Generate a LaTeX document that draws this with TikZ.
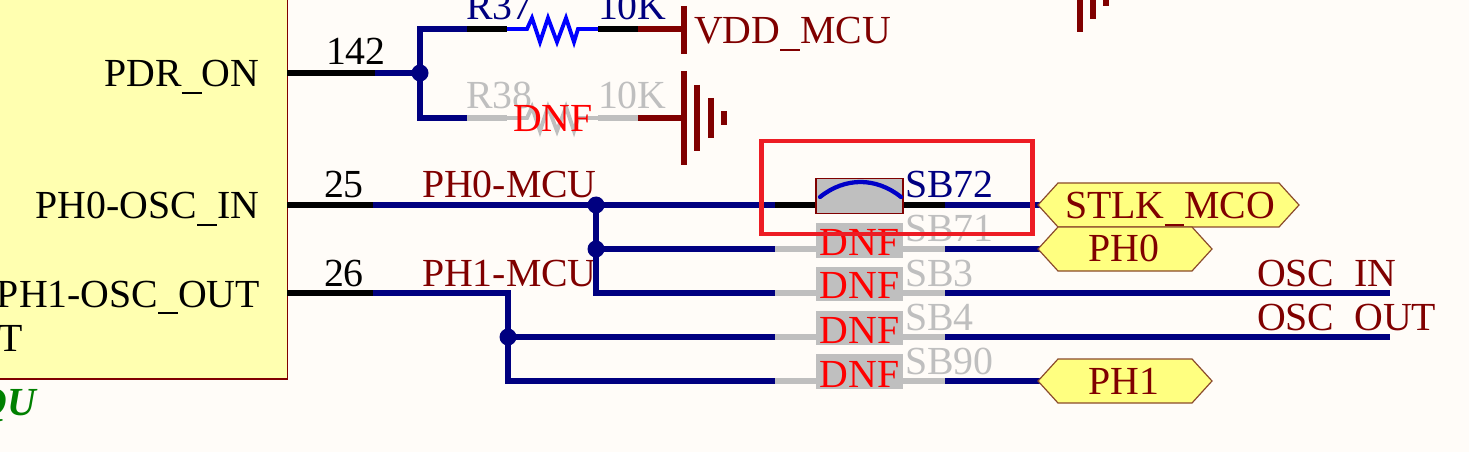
\documentclass[tikz,border=0pt]{standalone}
\usepackage{fontspec}
\setmainfont{Liberation Serif}
\definecolor{bgc}{HTML}{FFFCF8}
\definecolor{compfill}{HTML}{FFFFB0}
\definecolor{portfill}{HTML}{FFFF80}
\definecolor{dred}{HTML}{800000}
\definecolor{nav}{HTML}{000080}
\definecolor{gry}{HTML}{BFBFBF}
\definecolor{portedge}{HTML}{8B4A2B}
\definecolor{redbox}{HTML}{ED1C24}
\definecolor{grn}{HTML}{008000}
\definecolor{arcblue}{HTML}{0000C8}
\newcommand{\us}{\rule[-5.5pt]{14.9pt}{1.5pt}}
\tikzset{
  x=0.75pt,y=-0.75pt,
  lbl/.style={inner sep=0pt,outer sep=0pt,font=\fontsize{29.85}{30}\selectfont,anchor=base west},
  lblr/.style={lbl,anchor=base east},
  wire/.style={draw=nav,line width=3.8pt,line cap=butt,line join=miter},
  pinb/.style={draw=black,line width=3.8pt,line cap=butt},
  ping/.style={draw=gry,line width=3.8pt,line cap=butt},
  pinr/.style={draw=dred,line width=3.8pt,line cap=butt},
  junc/.style={circle,fill=nav,draw=none,minimum size=17*0.75pt,inner sep=0pt},
  sbbox/.style={rectangle,fill=gry,draw=none,minimum width=87*0.75pt,minimum height=34.5*0.75pt,inner sep=0pt},
  dnf/.style={lbl,text=red,anchor=base},
  port/.style={draw=portedge,fill=portfill,line width=0.9pt},
}
\begin{document}
\begin{tikzpicture}
\clip (0,0) rectangle (1469,452);
\fill[bgc] (0,0) rectangle (1469,452);
% component body
\draw[dred,fill=compfill,line width=0.8pt] (-20,-20) rectangle (287.5,379);
\node[lblr] (pdr) at (259,87) {PDR\us ON};
\node[lblr] (ph0in) at (259,219) {PH0-OSC\us IN};
\node[lblr] (ph1out) at (260,307) {PH1-OSC\us OUT};
\node[lblr] (tpart) at (23,351) {T};
\node[lblr,text=grn,font=\fontsize{29.85}{30}\selectfont\bfseries\itshape] (qu) at (36,415) {QU};
% pin numbers and net labels
\node[lbl] (n142) at (326,65) {142};
\node[lbl] (n25) at (324,198) {25};
\node[lbl] (n26) at (324,286) {26};
\node[lbl,text=dred] (ph0mcu) at (422,198) {PH0-MCU};
\node[lbl,text=dred] (ph1mcu) at (422,286) {PH1-MCU};
\node[lbl,text=dred] (oscin) at (1257,286) {OSC\us IN};
\node[lbl,text=dred] (oscout) at (1257,330) {OSC\us OUT};
\node[lbl,text=dred] (vdd) at (694,44) {VDD\us MCU};
\node[lbl,text=nav] (r37) at (466,20) {R37};
\node[lbl,text=nav] (v37) at (598,20) {10K};
\node[lbl,text=gry] (r38) at (466,109) {R38};
\node[lbl,text=gry] (v38) at (598,109) {10K};
\node[lbl,text=nav] (sb72) at (905,198) {SB72};
\node[lbl,text=gry] (sb71) at (905,242) {SB71};
\node[lbl,text=gry] (sb3) at (905,286) {SB3};
\node[lbl,text=gry] (sb4) at (905,330) {SB4};
\node[lbl,text=gry] (sb90) at (905,374) {SB90};
% coordinates
\coordinate (p142) at (287,73);
\coordinate (p25) at (287,205);
\coordinate (p26) at (287,293);
\node[junc] (j1) at (420,73) {};
\node[junc] (j2) at (596,205) {};
\node[junc] (j3) at (596,249) {};
\node[junc] (j4) at (508,337) {};
% top branch: R37 / R38
\draw[pinb] (p142) -- (375,73);
\draw[wire] (375,73) -- (j1.center);
\draw[wire] (467,29) -- (420,29) -- (420,118) -- (467,118);
\draw[pinb] (467,29) -- (507,29);
\draw[draw=blue,line width=2.9pt,line cap=butt,line join=miter]
  (507,29) -- (527,29) -- (532,18) -- (540,42) -- (548,18) -- (557,42) -- (566,18) -- (574,42) -- (578,29) -- (598,29);
\draw[pinb] (598,29) -- (638,29);
\draw[pinr] (638,29) -- (684,29);
\draw[pinr] (684,6) -- (684,54);
\draw[ping] (467,118) -- (507,118);
\draw[draw=gry,line width=2.9pt,line cap=butt,line join=miter]
  (507,118) -- (527,118) -- (532,107) -- (540,131) -- (548,107) -- (557,131) -- (566,107) -- (574,131) -- (578,118) -- (598,118);
\draw[ping] (598,118) -- (638,118);
\draw[pinr] (638,118) -- (684,118);
\draw[pinr] (684,71) -- (684,165);
\draw[pinr] (697,85) -- (697,151);
\draw[pinr] (711,98) -- (711,138);
\draw[pinr] (724,111) -- (724,125);
\node[dnf] (dnfr) at (553,132) {DNF};
% top right fragment
\draw[pinr] (1080,-5) -- (1080,32);
\draw[pinr] (1093,-5) -- (1093,19);
\draw[pinr] (1106,-5) -- (1106,6);
% PH0 / PH1 wires
\draw[pinb] (p25) -- (373,205);
\draw[pinb] (p26) -- (373,293);
\draw[wire] (373,205) -- (775,205);
\draw[wire] (373,293) -- (508,293) -- (508,381) -- (775,381);
\draw[wire] (j4.center) -- (775,337);
\draw[wire] (j2.center) -- (596,293) -- (775,293);
\draw[wire] (j3.center) -- (775,249);
\draw[wire] (945,293) -- (1390,293);
\draw[wire] (945,337) -- (1390,337);
% solder bridges
\draw[pinb] (775,205) -- (818,205);
\draw[pinb] (903,205) -- (945,205);
\foreach \yy in {249,293,337,381}{
  \draw[ping] (775,\yy) -- (818,\yy);
  \draw[ping] (903,\yy) -- (945,\yy);
}
\node[sbbox,draw=dred,line width=0.8pt] (b72) at (859.5,196) {};
\draw[draw=arcblue,line width=3.2pt,line cap=round] (820,197) .. controls (845,177) and (876,177) .. (901,197);
\node[sbbox] (b71) at (859.5,240.5) {};
\node[sbbox] (b3) at (859.5,284) {};
\node[sbbox] (b4) at (859.5,328) {};
\node[sbbox] (b90) at (859.5,371.5) {};
\node[dnf] (d71) at (859.5,255) {DNF};
\node[dnf] (d3) at (859.5,298) {DNF};
\node[dnf] (d4) at (859.5,343) {DNF};
\node[dnf] (d90) at (859.5,387) {DNF};
% ports
\draw[wire] (945,205) -- (1040,205);
\draw[wire] (945,249) -- (1040,249);
\draw[wire] (945,381) -- (1040,381);
\draw[port] (1038,205) -- (1058,183) -- (1279,183) -- (1299,205) -- (1279,227) -- (1058,227) -- cycle;
\node[lbl,text=dred] (stlk) at (1065,219) {STLK\us MCO};
\draw[port] (1038,249) -- (1058,227) -- (1192,227) -- (1212,249) -- (1192,271) -- (1058,271) -- cycle;
\node[dnf,text=dred] (ph0p) at (1124,262) {PH0};
\draw[port] (1038,381) -- (1058,359) -- (1192,359) -- (1212,381) -- (1192,403) -- (1058,403) -- cycle;
\node[dnf,text=dred] (ph1p) at (1124,394) {PH1};
% highlight
\draw[redbox,line width=3.6pt] (761.5,141) rectangle (1032.5,234);
\end{tikzpicture}
\end{document}
